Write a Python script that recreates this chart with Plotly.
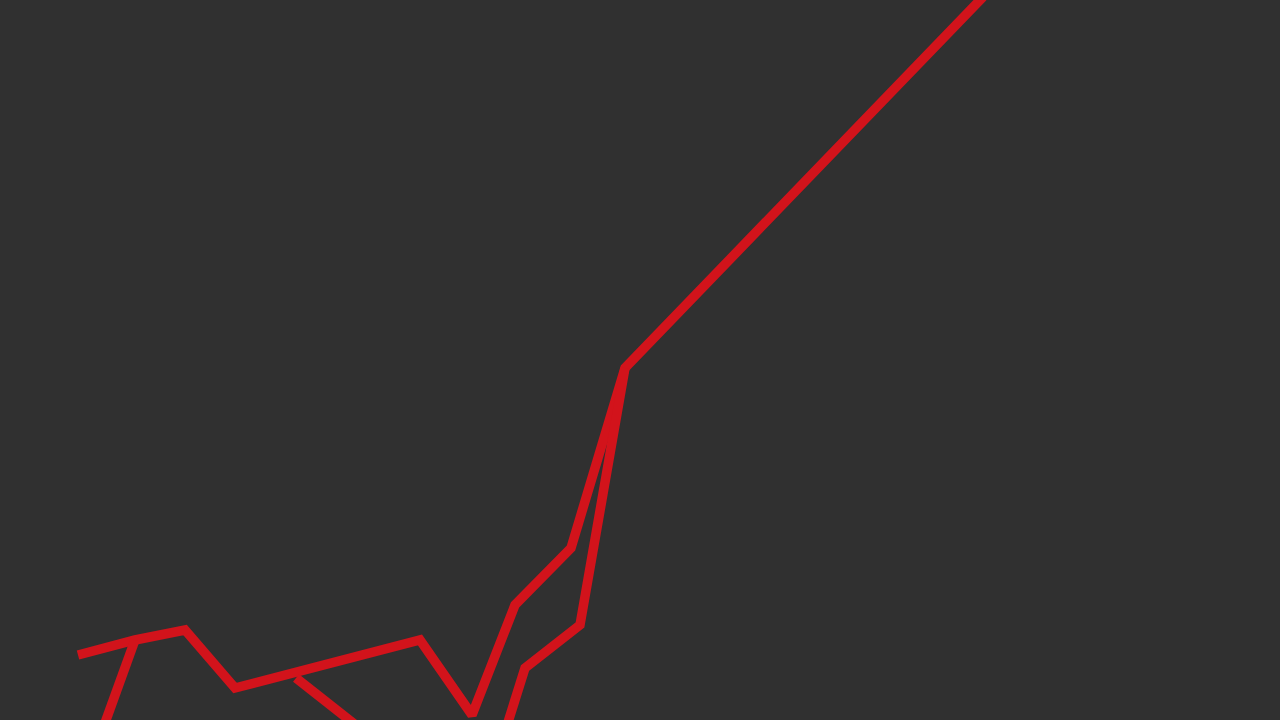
import plotly.graph_objects as go

# Path segments (x, height-from-bottom units); None separates strands
x_vals = [78, 135, 185, 235, 420, 472, 515, 571, 625, 983, None,
          135, 97, None,
          296, 362, None,
          504, 525, 580, 625]
y_vals = [65, 80, 90, 32, 80, 5, 115, 172, 352, 723, None,
          80, -25, None,
          42, -10, None,
          -15, 52, 95, 352]

fig = go.Figure()
fig.add_trace(go.Scatter(
    x=x_vals, y=y_vals, mode="lines",
    line=dict(color="#d2131b", width=9.5),
    connectgaps=False, hoverinfo="skip", showlegend=False,
))
fig.update_layout(
    width=1280, height=720,
    margin=dict(l=0, r=0, t=0, b=0),
    paper_bgcolor="#303030", plot_bgcolor="#303030",
    xaxis=dict(range=[0, 1280], visible=False, fixedrange=True),
    yaxis=dict(range=[0, 720], visible=False, fixedrange=True),
)
fig.write_html(
    "out.html",
    config={"displayModeBar": False},
    post_script="document.body.style.margin='0';document.body.style.overflow='hidden';document.body.style.background='#303030';",
)
